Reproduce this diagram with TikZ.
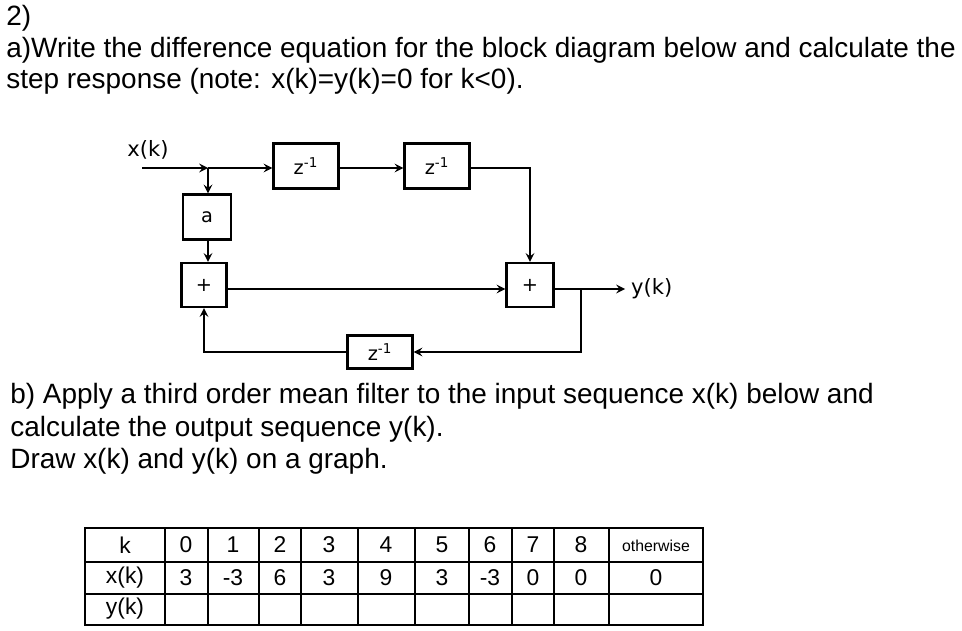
\documentclass[tikz,border=0pt]{standalone}
\usepackage{fontspec}
\setmainfont{Liberation Sans}
\newfontfamily\blockfont{DejaVu Sans}
\usetikzlibrary{positioning}
\tikzset{
  block/.style={
    draw,
    line width=1.2pt,
    inner sep=0pt,
    font=\blockfont\fontsize{11}{13}\selectfont,
  },
  sig/.style={line width=1.2pt, ->, >=stealth},
  txt/.style={anchor=west, inner sep=0pt, font=\fontsize{15.9}{18}\selectfont},
  cell/.style={inner sep=0pt, font=\fontsize{13}{15}\selectfont},
}

\begin{document}
\begin{tikzpicture}[x=0.02cm, y=-0.02cm]
  \useasboundingbox (0,0) rectangle (962,631);

  % question text
  \node[txt] (q2) at (6,18) {2)};
  \node[txt] (qa1) at (6,50) {a)Write the difference equation for the block diagram below and calculate the};
  \node[txt] (qa2) at (6,81) {step response (note: x(k)=y(k)=0 for k<0).};
  \node[txt] (qb1) at (10,396) {b) Apply a third order mean filter to the input sequence x(k) below and};
  \node[txt] (qb2) at (10,429) {calculate the output sequence y(k).};
  \node[txt] (qb3) at (10,461) {Draw x(k) and y(k) on a graph.};

  % block diagram
  \node[block, minimum width=1.3cm, minimum height=0.9cm] (d1) at (306,166) {z\textsuperscript{-1}};
  \node[block, minimum width=1.3cm, minimum height=0.9cm] (d2) at (437,166) {z\textsuperscript{-1}};
  \node[block, minimum width=1.3cm, minimum height=0.66cm] (d3) at (380,352) {z\textsuperscript{-1}};
  \node[block, minimum width=0.96cm, minimum height=0.9cm] (ga) at (207,217) {a};
  \node[block, minimum width=0.9cm, minimum height=0.88cm] (s1) at (204,285) {+};
  \node[block, minimum width=0.94cm, minimum height=0.88cm] (s2) at (530,285) {+};
  \node[font=\blockfont\fontsize{12}{14}\selectfont] (xk) at (148,150) {x(k)};
  \node[font=\blockfont\fontsize{12}{14}\selectfont, anchor=west] (yk) at (625,289) {y(k)};
  \coordinate (xin) at (142,168);
  \coordinate (jx) at (208,168);
  \coordinate (jy) at (581,289);

  \draw[sig] (xin) -- (jx);
  \draw[sig] (jx) -- (d1.west |- jx);
  \draw[sig] (d1.east |- jx) -- (d2.west |- jx);
  \draw[sig] (d2.east |- jx) -| (s2.north);
  \draw[sig] (jx) -- (ga.north -| jx);
  \draw[sig] (ga.south -| jx) -- (s1.north -| jx);
  \draw[sig] (s1.east |- jy) -- (s2.west |- jy);
  \draw[sig] (s2.east |- jy) -- (yk.west);
  \draw[sig] (jy) |- (d3.east);
  \draw[sig] (d3.west) -| (s1.south);

  % table
  \foreach \xa/\xb [count=\i] in {85/165,165/208,208/259,259/301,301/358,358/415,415/469,469/512,512/554,554/609,609/703} {
    \draw[line width=0.7pt] (\xa,528) rectangle (\xb,625);
  }
  \foreach \yy in {562,594} \draw[line width=0.7pt] (85,\yy) -- (703,\yy);
  \foreach \xc/\kv/\xv in {125/k/x(k),186/0/3,233/1/-3,280/2/6,329/3/3,386/4/9,442/5/3,490/6/-3,533/7/0,581/8/0} {
    \node[cell] (k\xc) at (\xc,545) {\kv};
    \node[cell] (x\xc) at (\xc,578) {\xv};
  }
  \node[cell, font=\fontsize{9}{11}\selectfont] (kother) at (656,546) {otherwise};
  \node[cell] (xother) at (656,578) {0};
  \node[cell] (ylabel) at (125,609) {y(k)};
\end{tikzpicture}
\end{document}
